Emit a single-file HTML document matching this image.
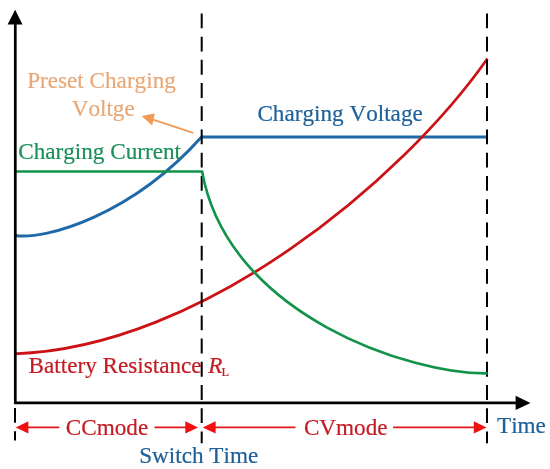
<!DOCTYPE html>
<html><head><meta charset="utf-8"><title>Charging profile</title>
<style>
html,body{margin:0;padding:0;background:#fff;}
svg{display:block;}
text{font-family:"Liberation Serif",serif;font-size:24px;font-kerning:none;stroke-width:0.2px;}
</style></head><body>
<svg width="550" height="469" viewBox="0 0 550 469">
<rect width="550" height="469" fill="#ffffff"/>
<!-- curves -->
<path d="M14.9,235.5 C45.9,240.2 131.5,215.3 201.5,137 L487.5,137" fill="none" stroke="#1f69a8" stroke-width="3" stroke-linejoin="round"/>
<path d="M14.4,353.8 C202.9,347.6 402.3,180 487.5,58.4" fill="none" stroke="#cc1216" stroke-width="2.7"/>
<!-- dashed lines -->
<path d="M201.7,13.4 V443.3" stroke="#000" stroke-width="2" stroke-dasharray="14.8 8.43" fill="none"/>
<path d="M487,13.4 V443.3" stroke="#000" stroke-width="2" stroke-dasharray="14.8 8.43" fill="none"/>
<path d="M15,408 V440.4" stroke="#000" stroke-width="2" stroke-dasharray="14.8 8.43" fill="none"/>
<path d="M15,171.5 L202.1,171.5 C228,316.5 413.1,374.6 487.7,373.4" fill="none" stroke="#12934a" stroke-width="2.6" stroke-linejoin="miter" stroke-miterlimit="10"/>
<!-- axes -->
<path d="M15.3,22 V402.9 H518" stroke="#000" stroke-width="2.7" fill="none" stroke-linejoin="miter"/>
<path d="M15.1,9.8 L22.5,24.4 L7.6,24.4 Z" fill="#000"/>
<path d="M530.5,403 L515.6,395.8 L515.6,410.1 Z" fill="#000"/>
<!-- red dimension arrows -->
<g stroke="#e01818" stroke-width="1.9" fill="#f01010">
<path d="M26,427.4 H59.3"/><path d="M15.7,427.4 L28.4,421.2 L28.4,433.6 Z" stroke="none"/>
<path d="M154.5,427.4 H187"/><path d="M198.1,427.4 L185.3,421.2 L185.3,433.6 Z" stroke="none"/>
<path d="M214,427.4 H295.5"/><path d="M202.7,427.4 L215.6,421.2 L215.6,433.6 Z" stroke="none"/>
<path d="M393.1,427.4 H475"/><path d="M486.5,427.4 L473.8,421.2 L473.8,433.6 Z" stroke="none"/>
</g>
<!-- orange arrow -->
<path d="M193.2,132.8 L150,118.6" stroke="#f09a58" stroke-width="1.8" fill="none"/>
<path d="M141.6,116 L154.8,113.4 L152.2,125.6 Z" fill="#f09a58"/>
<!-- labels -->
<g transform="translate(101.5,87.7) scale(0.966,1)"><text text-anchor="middle" fill="#e9a878" stroke="#e9a878">Preset Charging</text></g>
<g transform="translate(103.2,115.6) scale(0.966,1)"><text text-anchor="middle" fill="#e9a878" stroke="#e9a878">Voltge</text></g>
<g transform="translate(257.4,121) scale(0.966,1)"><text fill="#1d609a" stroke="#1d609a">Charging Voltage</text></g>
<g transform="translate(18.2,158.6) scale(0.966,1)"><text fill="#1a9058" stroke="#1a9058">Charging Current</text></g>
<g transform="translate(28.6,373.4) scale(0.966,1)"><text fill="#c41a22" stroke="#c41a22">Battery Resistance</text></g>
<g transform="translate(208.3,373.4) scale(0.966,1)"><text fill="#c41a22" stroke="#c41a22" font-style="italic">R</text></g>
<g transform="translate(221.6,376.2) scale(0.966,1)"><text fill="#c41a22" stroke="#c41a22" style="font-size:13px">L</text></g>
<g transform="translate(65.8,434.5) scale(0.966,1)"><text fill="#c41a22" stroke="#c41a22">CCmode</text></g>
<g transform="translate(303.9,434.5) scale(0.966,1)"><text fill="#c41a22" stroke="#c41a22">CVmode</text></g>
<g transform="translate(139.2,462.7) scale(0.966,1)"><text fill="#1d609a" stroke="#1d609a">Switch Time</text></g>
<g transform="translate(497,432.8) scale(0.966,1)"><text fill="#1d609a" stroke="#1d609a">Time</text></g>
</svg>
</body></html>
